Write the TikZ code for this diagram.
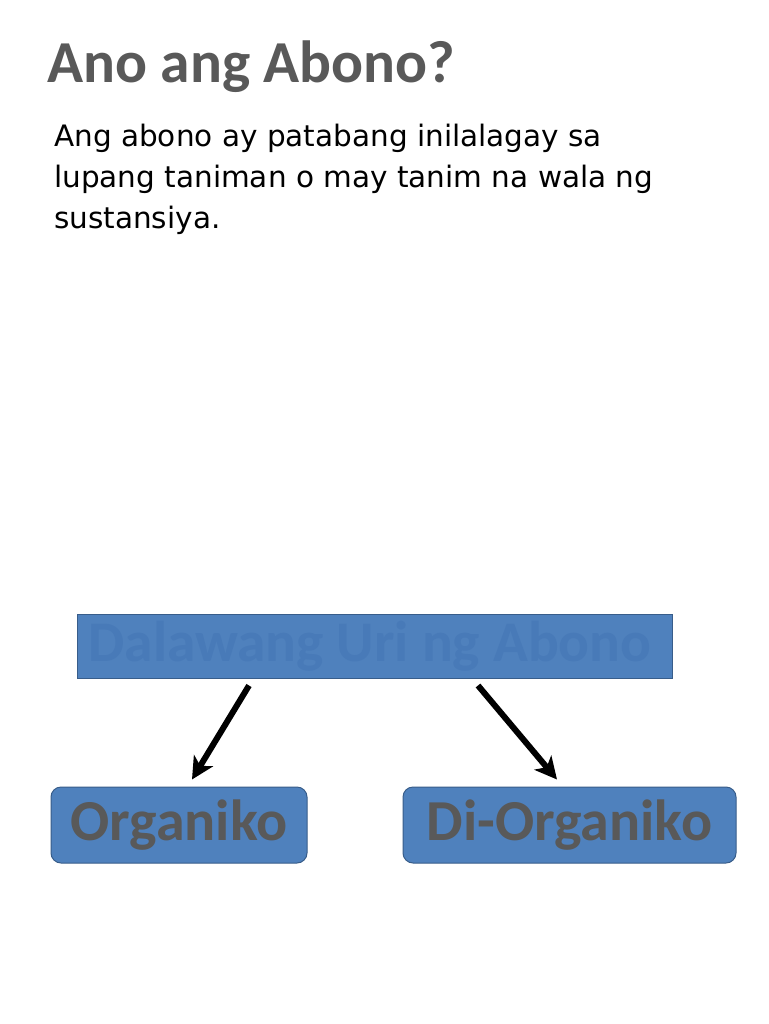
\documentclass[tikz,border=0pt]{standalone}
\usepackage{fontspec}
\setmainfont{Carlito}
\newfontfamily\bodyfont{DejaVu Sans}
\usetikzlibrary{arrows.meta}
\definecolor{boxblue}{RGB}{79,129,189}
\definecolor{boxline}{RGB}{56,93,138}
\definecolor{faintblue}{RGB}{72,122,184}
\definecolor{titlegray}{RGB}{89,89,89}
\tikzset{
  kindbox/.style={draw=boxline,line width=1pt,fill=boxblue,rounded corners=10pt,
    minimum height=76pt,inner sep=0pt,text=titlegray,
    font=\fontsize{58}{60}\selectfont\bfseries},
  pointer/.style={line width=6pt,-{Stealth[length=22pt,width=22pt,inset=6pt]}}
}
\begin{document}
\begin{tikzpicture}[x=1pt,y=-1pt]
  % Page
  \fill[white] (0,0) rectangle (768,1024);
  \useasboundingbox (0,0) rectangle (768,1024);

  % Title and text
  \node[anchor=base west,inner sep=0pt,text=titlegray,
    font=\fontsize{59.5}{62}\selectfont\bfseries] (title) at (47,82.5) {Ano ang Abono?};
  \node[anchor=base west,inner sep=0pt,align=left,
    font=\bodyfont\fontsize{29.5}{41}\selectfont] (def) at (54,229)
    {Ang abono ay patabang inilalagay sa\\
     lupang taniman o may tanim na wala ng\\
     sustansiya.};

  % Boxes
  \node[draw=boxline,line width=1pt,fill=boxblue,minimum width=595pt,minimum height=64pt,
    inner sep=0pt,text=faintblue,font=\fontsize{57.5}{60}\selectfont\bfseries]
    (uri) at (374.5,646) {\hspace*{-9pt}Dalawang Uri ng Abono};
  \node[kindbox,minimum width=256pt] (org) at (179,825) {Organiko};
  \node[kindbox,minimum width=333pt] (diorg) at (569.5,825) {Di-Organiko};

  % Arrows
  \draw[pointer] ([xshift=-125.5pt,yshift=-7pt]uri.south) -- ([xshift=13pt,yshift=7pt]org.north);
  \draw[pointer] ([xshift=103.5pt,yshift=-7pt]uri.south) -- ([xshift=-12.5pt,yshift=7pt]diorg.north);
\end{tikzpicture}
\end{document}
